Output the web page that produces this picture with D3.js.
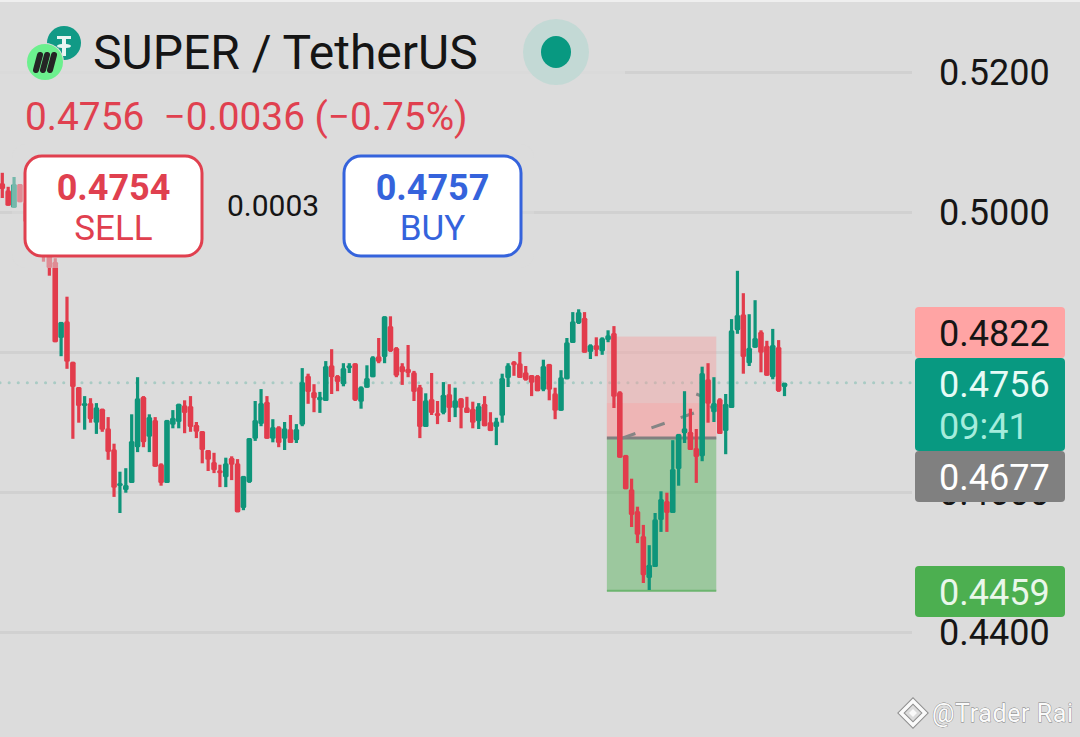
<!DOCTYPE html>
<html>
<head>
<meta charset="utf-8">
<script src="https://cdn.jsdelivr.net/npm/d3@7"></script>
<style>
  html, body { margin: 0; padding: 0; background: #dcdcdc; overflow: hidden; }
  svg { display: block; font-family: Roboto, sans-serif; }
  .axis .domain { display: none; }
  .axis text { font-family: Roboto, sans-serif; font-size: 36px; fill: #151515; }
</style>
</head>
<body>
<div id="chart"></div>
<script>
// Candles. Prices are in 1/10000 USDT
var highs = [
  5056,5036,5050,5040,5020,5010,5000,4980,4939,4934,
  4843,4879,4786,4750,4737,4734,4727,4719,4707,4669,
  4629,4634,4711,4764,4737,4711,4707,4641,4703,4717,
  4726,4731,4737,4700,4687,4660,4656,4639,4649,4651,
  4647,4623,4677,4730,4747,4737,4704,4694,4700,4710,
  4697,4777,4769,4754,4743,4787,4804,4767,4784,4784,
  4784,4751,4781,4794,4820,4851,4851,4807,4784,4810,
  4773,4753,4741,4770,4730,4757,4754,4749,4734,4736,
  4729,4727,4737,4714,4706,4769,4784,4787,4800,4780,
  4767,4767,4789,4783,4749,4774,4820,4857,4861,4857,
  4811,4821,4821,4831,4837,4744,4653,4619,4579,4553,
  4524,4570,4601,4599,4674,4683,4744,4719,4690,4779,
  4784,4764,4734,4740,4847,4916,4884,4854,4874,4831,
  4816,4833,4817,4756];
var bodyTops = [
  5041,5031,5040,5040,5014,5000,4994,4963,4939,4929,
  4843,4844,4786,4750,4727,4727,4721,4719,4691,4661,
  4613,4610,4673,4734,4736,4707,4703,4640,4703,4706,
  4726,4724,4723,4696,4687,4660,4643,4631,4641,4649,
  4641,4623,4677,4703,4727,4729,4693,4693,4691,4690,
  4690,4757,4766,4743,4736,4780,4781,4766,4777,4781,
  4784,4750,4763,4793,4794,4851,4837,4806,4780,4776,
  4771,4750,4731,4733,4713,4739,4740,4731,4734,4721,
  4719,4723,4726,4700,4701,4763,4781,4786,4784,4771,
  4767,4766,4780,4783,4741,4764,4814,4844,4857,4849,
  4810,4810,4820,4824,4827,4743,4653,4604,4573,4537,
  4496,4561,4590,4587,4633,4683,4691,4686,4663,4770,
  4761,4727,4733,4726,4831,4853,4854,4806,4820,4829,
  4809,4810,4807,4756];
var bodyBottoms = [
  5033,5009,5006,5014,4986,4980,4960,4937,4920,4814,
  4820,4786,4750,4723,4723,4704,4699,4689,4657,4606,
  4609,4603,4613,4664,4671,4679,4636,4613,4613,4696,
  4700,4713,4693,4686,4660,4646,4631,4627,4621,4639,
  4571,4577,4614,4676,4697,4676,4676,4670,4676,4670,
  4674,4696,4743,4734,4731,4730,4764,4757,4754,4777,
  4731,4729,4749,4764,4786,4793,4801,4766,4771,4770,
  4743,4693,4693,4713,4709,4713,4720,4720,4720,4713,
  4699,4701,4694,4687,4693,4709,4763,4781,4763,4760,
  4756,4744,4746,4746,4716,4716,4761,4813,4841,4799,
  4800,4803,4801,4817,4736,4649,4604,4567,4539,4481,
  4477,4493,4560,4570,4570,4633,4684,4660,4650,4651,
  4726,4714,4683,4687,4720,4831,4793,4784,4806,4799,
  4766,4764,4744,4750];
var lows = [
  5020,5009,5006,5014,4974,4963,4951,4929,4909,4814,
  4794,4776,4676,4699,4689,4699,4683,4686,4646,4593,
  4570,4599,4613,4657,4664,4657,4636,4609,4613,4691,
  4691,4684,4686,4677,4641,4630,4627,4607,4607,4617,
  4571,4574,4613,4673,4694,4676,4671,4664,4660,4670,
  4670,4694,4726,4714,4713,4730,4740,4744,4751,4770,
  4730,4719,4749,4764,4784,4784,4800,4764,4753,4764,
  4730,4677,4693,4710,4697,4711,4700,4707,4691,4713,
  4691,4690,4694,4687,4667,4699,4750,4766,4763,4759,
  4737,4744,4744,4731,4704,4716,4761,4813,4840,4799,
  4790,4794,4796,4814,4720,4649,4604,4550,4527,4470,
  4460,4493,4543,4543,4570,4609,4670,4660,4613,4644,
  4699,4700,4683,4654,4720,4826,4769,4780,4806,4771,
  4766,4761,4743,4737];
// u = closed up, d = closed down
var directions = [
  "dduddudddd",
  "udddududdd",
  "uuuududduu",
  "udddddddud",
  "duuuududud",
  "uudduudduu",
  "duuududddd",
  "dduddududd",
  "dudduuuddd",
  "ddudduuuud",
  "uduudddddd",
  "uuuduuuddu",
  "duduuuduud",
  "dudu"].join("").split("");

var yTicks = [0.52, 0.50, 0.48, 0.46, 0.44];
var lastPrice = 0.4756;
var stopPrice = 0.4822;
var entryPrice = 0.4677;
var targetPrice = 0.4459;
var currentPrice = 0.4727;
var zoneBars = [102.8, 121.4];
var tradeBars = [105.4, 121.4];
var tradePrices = [0.4677, 0.4724];
var tradeTailBars = [118, 118.9];
var tradeTailPrices = [0.4740, 0.4737];

var headerTitle = "SUPER / TetherUS";
var headerQuote = "0.4756  \u22120.0036 (\u22120.75%)";
var sellPrice = "0.4754", buyPrice = "0.4757", spread = "0.0003";
var countdown = "09:41";
var watermark = "@Trader Rai";

var svgWidth = 1080;
var svgHeight = 737;
var red = "#e23c4c", teal = "#0e957a", blue = "#3563dc";

var svg = d3.select("#chart").append("svg")
  .attr("width", svgWidth)
  .attr("height", svgHeight);

svg.append("rect").attr("width", svgWidth).attr("height", svgHeight).attr("fill", "#dcdcdc");
svg.append("rect").attr("width", svgWidth).attr("height", 2).attr("fill", "#efefef");

// scales: 0.02 is 140px on the price axis
var yScale = d3.scaleLinear().domain([0.44, 0.52]).range([632, 72]);
var xScale = d3.scaleLinear().domain([0, highs.length - 1]).range([2.3, 784.5]);
var py = d => yScale(d / 10000);

// price axis + grid
var axis = svg.append("g")
  .attr("class", "axis")
  .attr("transform", "translate(912,0)")
  .call(d3.axisLeft(yScale).tickValues(yTicks).tickSize(912).tickFormat(""));
axis.selectAll("line").attr("stroke", "#d1d1d1").attr("stroke-width", 3);

var labels = svg.append("g")
  .attr("class", "axis")
  .attr("transform", "translate(939,0)")
  .call(d3.axisRight(yScale).tickValues(yTicks).tickSize(0).tickPadding(0).tickFormat(d3.format(".4f")));
labels.selectAll("text").attr("dy", "0.36em");

// last price dots
svg.append("line")
  .attr("x1", 0).attr("x2", 915)
  .attr("y1", yScale(lastPrice)).attr("y2", yScale(lastPrice))
  .attr("stroke", "#a9cbc4").attr("stroke-width", 3)
  .attr("stroke-linecap", "round").attr("stroke-dasharray", "0.1 9");

// position zones
var zoneX = xScale(zoneBars[0]);
var zoneW = xScale(zoneBars[1]) - zoneX;
svg.append("rect").attr("x", zoneX).attr("width", zoneW)
  .attr("y", yScale(stopPrice)).attr("height", yScale(entryPrice) - yScale(stopPrice))
  .attr("fill", "#f4a0a0").attr("opacity", 0.45);
svg.append("rect").attr("x", zoneX).attr("width", zoneW)
  .attr("y", yScale(currentPrice)).attr("height", yScale(entryPrice) - yScale(currentPrice))
  .attr("fill", "#ff9c9c").attr("opacity", 0.3);
svg.append("rect").attr("x", zoneX).attr("width", zoneW)
  .attr("y", yScale(entryPrice)).attr("height", yScale(targetPrice) - yScale(entryPrice))
  .attr("fill", "#4caf50").attr("opacity", 0.44);
svg.append("line").attr("x1", zoneX).attr("x2", zoneX + zoneW)
  .attr("y1", yScale(targetPrice)).attr("y2", yScale(targetPrice))
  .attr("stroke", "#6cb56f").attr("stroke-width", 2);
svg.append("line").attr("x1", zoneX).attr("x2", zoneX + zoneW)
  .attr("y1", yScale(entryPrice)).attr("y2", yScale(entryPrice))
  .attr("stroke", "#808080").attr("stroke-width", 3);

// dashed trade line
var tradeLine = d3.line().x(d => xScale(d[0])).y(d => yScale(d[1]));
svg.append("path")
  .attr("d", tradeLine(d3.zip(tradeBars, tradePrices)))
  .attr("fill", "none").attr("stroke", "#858585").attr("stroke-width", 3)
  .attr("stroke-dasharray", "14 17");
svg.append("path")
  .attr("d", tradeLine(d3.zip(tradeTailBars, tradeTailPrices)))
  .attr("fill", "none").attr("stroke", "#858585").attr("stroke-width", 3);

// candles
var candles = svg.append("g").selectAll("g")
  .data(highs)
  .enter()
  .append("g")
  .attr("fill", (d, i) => directions[i] === "u" ? teal : red);

candles.append("rect")
  .attr("x", (d, i) => xScale(i) - 1.6)
  .attr("width", 3.2)
  .attr("y", d => py(d))
  .attr("height", (d, i) => py(lows[i]) - py(d));

candles.append("rect")
  .attr("x", (d, i) => xScale(i) - 2.8)
  .attr("width", 5.6)
  .attr("rx", 1.5)
  .attr("y", (d, i) => py(bodyTops[i]))
  .attr("height", (d, i) => Math.max(py(bodyBottoms[i]) - py(bodyTops[i]), 3));

// header backdrop that washes out what is behind the buttons
svg.append("rect").attr("x", 12).attr("y", 144).attr("width", 522).attr("height", 124)
  .attr("rx", 14).attr("fill", "#dcdcdc").attr("opacity", 0.5);
svg.append("rect").attr("x", 200).attr("y", 190).attr("width", 144).attr("height", 40).attr("fill", "#dcdcdc");
svg.append("rect").attr("x", 0).attr("y", 60).attr("width", 625).attr("height", 24).attr("fill", "#dcdcdc").attr("opacity", 0.8);

// coin logos
svg.append("circle").attr("cx", 64).attr("cy", 43).attr("r", 17).attr("fill", "#119a86");
svg.append("path").attr("d", "M57,36H71V39H66V44C69,44 71,45 71,46C71,47 69,48 66,48V56H62V48C59,48 57,47 57,46C57,45 59,44 62,44V39H57Z")
  .attr("fill", "#e8f5f2");
svg.append("circle").attr("cx", 45).attr("cy", 62).attr("r", 19).attr("fill", "#dcdcdc");
svg.append("circle").attr("cx", 45).attr("cy", 62).attr("r", 18).attr("fill", "#6cf08e");
svg.append("g").selectAll("line").data([38, 45, 52]).enter().append("line")
  .attr("x1", d => d + 2).attr("x2", d => d - 2)
  .attr("y1", 55).attr("y2", 70)
  .attr("stroke", "#252525").attr("stroke-width", 6).attr("stroke-linecap", "round");

// title rows
svg.append("text").attr("x", 93).attr("y", 69).attr("font-size", 48).attr("fill", "#151515").text(headerTitle);
svg.append("text").attr("x", 25).attr("y", 130).attr("font-size", 38.8).attr("fill", "#e0404f")
  .style("white-space", "pre").text(headerQuote);

// status dot
svg.append("ellipse").attr("cx", 556).attr("cy", 52).attr("rx", 33).attr("ry", 33).attr("fill", "#c3d9d5");
svg.append("ellipse").attr("cx", 556).attr("cy", 52).attr("rx", 15).attr("ry", 16).attr("fill", "#089981");

// buy / sell buttons
function drawButton(x, color, price, name) {
  svg.append("rect").attr("x", x).attr("y", 156).attr("width", 177).attr("height", 100)
    .attr("rx", 17).attr("fill", "#fff").attr("stroke", color).attr("stroke-width", 3);
  svg.append("text").attr("x", x + 88.5).attr("y", 200).attr("text-anchor", "middle")
    .attr("font-size", 36).attr("font-weight", 700).attr("fill", color).text(price);
  svg.append("text").attr("x", x + 88.5).attr("y", 240).attr("text-anchor", "middle")
    .attr("font-size", 35).attr("fill", color).text(name);
}
drawButton(25, "#e0404f", sellPrice, "SELL");
drawButton(344, blue, buyPrice, "BUY");
svg.append("text").attr("x", 273).attr("y", 216).attr("text-anchor", "middle")
  .attr("font-size", 30).attr("fill", "#151515").text(spread);

// right hand price tags
function drawTag(top, height, color, textColor, price) {
  svg.append("rect").attr("x", 915).attr("y", top).attr("width", 150).attr("height", height)
    .attr("rx", 4).attr("fill", color);
  svg.append("text").attr("x", 939).attr("y", top + 39).attr("font-size", 36).attr("fill", textColor).text(price);
}
drawTag(307, 51, "#ffa4a4", "#151515", stopPrice.toFixed(4));
drawTag(358, 93, "#089981", "#e6fbf6", lastPrice.toFixed(4));
svg.append("text").attr("x", 939).attr("y", 439).attr("font-size", 36).attr("fill", "#a5ecdc").text(countdown);
drawTag(451, 51, "#808080", "#ffffff", entryPrice.toFixed(4));
drawTag(566, 51, "#4caf50", "#e9f7ea", targetPrice.toFixed(4));

// watermark
var mark = svg.append("g").attr("transform", "translate(913,713)");
mark.append("path").attr("d", "M0,-12L12,0L0,12L-12,0Z").attr("fill", "none")
  .attr("stroke", "#8d8d8d").attr("stroke-width", 5.5);
mark.append("path").attr("d", "M0,-12L12,0L0,12L-12,0Z").attr("fill", "none")
  .attr("stroke", "#fafafa").attr("stroke-width", 3.5);
mark.append("path").attr("d", "M0,-4L4,0L0,4L-4,0Z").attr("fill", "#fafafa");
svg.append("text").attr("x", 932).attr("y", 722).attr("font-size", 25).attr("letter-spacing", 0.6)
  .attr("fill", "#fafafa").attr("stroke", "#7d7d7d").attr("stroke-width", 0.8)
  .attr("paint-order", "stroke").text(watermark);
</script>
</body>
</html>
